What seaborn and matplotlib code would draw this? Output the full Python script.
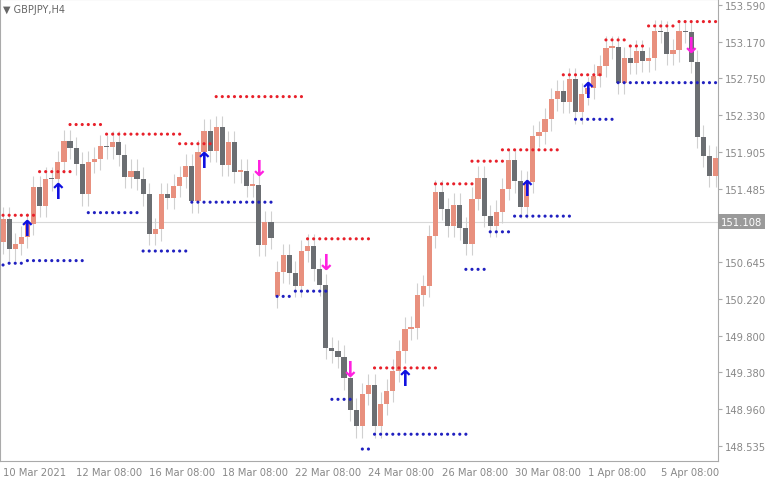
import matplotlib
matplotlib.use("Agg")
import matplotlib.pyplot as plt
import seaborn as sns
import pandas as pd
import numpy as np

first_open = 150.87
closes = [151.14, 150.79, 150.85, 150.93, 151.08, 151.50, 151.29, 151.60, 151.59, 151.79,
          152.03, 151.95, 151.77, 151.42, 151.79, 151.83, 151.97, 151.96, 152.02, 151.87,
          151.62, 151.69, 151.60, 151.42, 150.97, 151.02, 151.42, 151.38, 151.52, 151.62,
          151.75, 151.34, 151.91, 152.15, 151.92, 152.19, 151.76, 152.02, 151.68, 151.69,
          151.52, 151.53, 150.84, 151.10, 150.92, 150.53, 150.72, 150.52, 150.37, 150.77,
          150.83, 150.56, 150.38, 149.66, 149.62, 149.56, 149.31, 148.95, 148.76, 149.13,
          149.23, 148.76, 149.02, 149.17, 149.40, 149.62, 149.88, 149.89, 150.27, 150.37,
          150.94, 151.45, 151.25, 151.06, 151.30, 151.03, 150.85, 151.37, 151.61, 151.17,
          151.06, 151.22, 151.48, 151.81, 151.57, 151.28, 151.56, 152.09, 152.13, 152.28,
          152.51, 152.60, 152.48, 152.74, 152.36, 152.57, 152.64, 152.78, 152.89, 153.10,
          153.11, 152.70, 152.98, 152.93, 153.06, 152.95, 152.98, 153.29, 153.28, 153.03,
          153.07, 153.29, 153.28, 152.94, 152.08, 151.86, 151.63, 151.84, 151.72]
open_gaps = {45: 150.25}
wick = 0.13

red_start = [0, 6, 11, 17, 29, 35, 50, 61, 71, 77, 82, 92, 99, 103, 106, 111]
red_end = [5, 11, 16, 29, 34, 49, 60, 71, 77, 82, 91, 98, 102, 105, 110, 117]
red_level = [151.18, 151.68, 152.22, 152.11, 152.00, 152.54, 150.91, 149.43, 151.54, 151.80,
             151.93, 152.79, 153.19, 153.12, 153.35, 153.40]
blue_start = [0, 1, 4, 14, 23, 31, 45, 48, 54, 59, 61, 76, 80, 84, 94, 101]
blue_end = [0, 3, 13, 22, 30, 44, 47, 53, 57, 60, 76, 79, 83, 93, 100, 117]
blue_level = [150.61, 150.63, 150.66, 151.21, 150.77, 151.33, 150.25, 150.31, 149.07, 148.50,
              148.67, 150.56, 150.99, 151.17, 152.28, 152.70]

up_idx = [4, 9, 33, 66, 86, 96]
up_price = [151.02, 151.45, 151.80, 149.30, 151.48, 152.61]
down_idx = [42, 53, 57, 113]
down_price = [151.71, 150.63, 149.41, 153.12]

tick_labels = ["10 Mar 2021", "12 Mar 08:00", "16 Mar 08:00", "18 Mar 08:00", "22 Mar 08:00",
               "24 Mar 08:00", "26 Mar 08:00", "30 Mar 08:00", "1 Apr 08:00", "5 Apr 08:00"]
ytick_vals = [153.590, 153.170, 152.750, 152.330, 151.905, 151.485, 150.645, 150.220,
              149.800, 149.380, 148.960, 148.535]
last_price = 151.108

sns.set_style("white")
plt.rcParams['font.family'] = ['DejaVu Sans']

opens = [first_open] + closes[:-1]
for k, v in open_gaps.items():
    opens[k] = v
df = pd.DataFrame({"o": opens, "c": closes})
df["i"] = np.arange(len(df))
df["hi"] = df[["o", "c"]].max(axis=1) + wick
df["lo"] = df[["o", "c"]].min(axis=1) - wick
df["bull"] = df["c"] >= df["o"]

fig = plt.figure(figsize=(7.68, 4.81), dpi=100)
ax = fig.add_axes([0.0, 1 - 462 / 481, 718 / 768, 462 / 481])
ax.set_xlim(-0.5, 117.4)
ax.set_ylim(148.363, 153.659)

ax.axhline(last_price, color="#d8d8d8", lw=0.8, zorder=0)
ax.vlines(df["i"], df["lo"], df["hi"], color="#d0d0d0", lw=0.8, zorder=1)
bull_col, bear_col = "#E8907E", "#6B6E72"
for bull, col in [(True, bull_col), (False, bear_col)]:
    s = df[df["bull"] == bull]
    h = (s["c"] - s["o"]).abs().clip(lower=0.015)
    ax.bar(s["i"], h, bottom=s[["o", "c"]].min(axis=1), width=0.85, color=col, zorder=2,
           linewidth=0)

rows = []
for a, b, lv in zip(red_start, red_end, red_level):
    for j in range(a, b + 1):
        rows.append((j, lv, "r"))
for a, b, lv in zip(blue_start, blue_end, blue_level):
    for j in range(a, b + 1):
        rows.append((j, lv, "b"))
dots = pd.DataFrame(rows, columns=["i", "p", "k"])
sns.scatterplot(data=dots, x="i", y="p", hue="k", palette={"r": "#E8202A", "b": "#2020C0"},
                s=5, linewidth=0, legend=False, ax=ax, zorder=3)

for i, p in zip(up_idx, up_price):
    ax.text(i, p, "↑", color="#1010E0", fontsize=16, fontweight="heavy", ha="center",
            va="center", zorder=4)
for i, p in zip(down_idx, down_price):
    ax.text(i, p, "↓", color="#FF20E0", fontsize=16, fontweight="heavy", ha="center",
            va="center", zorder=4)

ax.set_xticks([12 * k for k in range(len(tick_labels))])
ax.set_xticklabels(tick_labels, ha="left", fontsize=7.2, color="#888888")
ax.yaxis.tick_right()
ax.set_yticks(ytick_vals)
ax.set_yticklabels([f"{v:.3f}" for v in ytick_vals], fontsize=7.2, color="#888888")
ax.tick_params(axis="both", length=3, color="#aaaaaa", pad=2)
ax.tick_params(axis="x", pad=1)
ax.set_xlabel("")
ax.set_ylabel("")
for sp in ax.spines.values():
    sp.set_color("#aaaaaa")
    sp.set_linewidth(0.8)

ax.text(1.004, last_price, f"{last_price:.3f}", transform=ax.get_yaxis_transform(),
        fontsize=7.2, color="white", va="center", ha="left",
        bbox=dict(boxstyle="square,pad=0.25", fc="#9a9a9a", ec="none"))
ax.text(0.004, 0.99, "▼ GBPJPY,H4", transform=ax.transAxes, fontsize=7, color="#666666",
        va="top", ha="left")

fig.savefig("out.png", dpi=100)
